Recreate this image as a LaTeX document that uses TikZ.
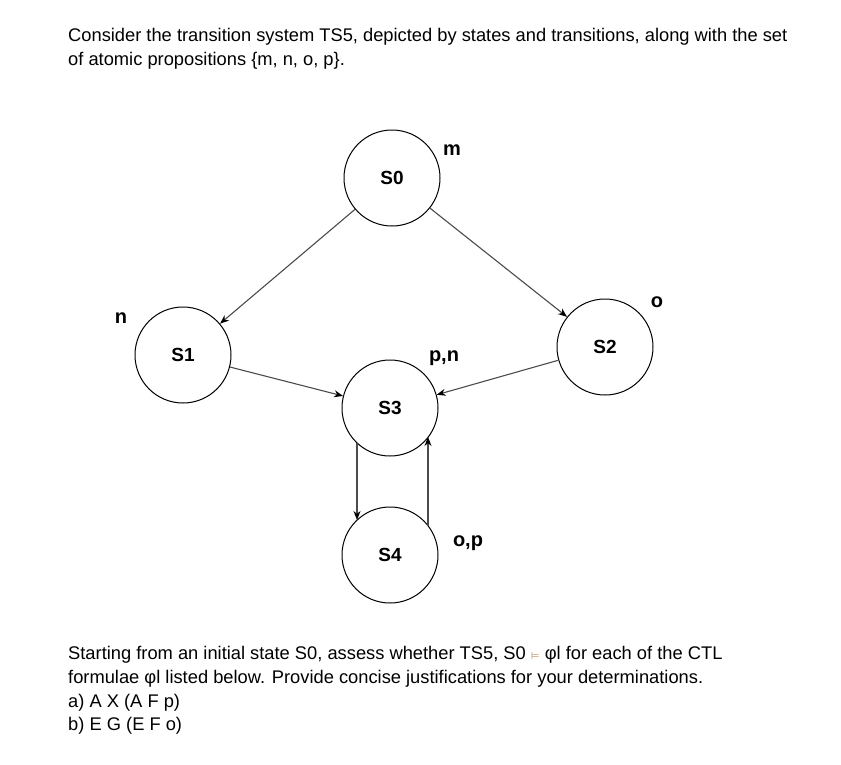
\documentclass[tikz,border=0pt]{standalone}
\usepackage{fontspec}
\setmainfont{Liberation Sans}
\newfontfamily\dejavu{DejaVu Sans}
\usetikzlibrary{arrows.meta}
\definecolor{modelsc}{RGB}{190,140,90}
\begin{document}
\begin{tikzpicture}[x=1pt,y=-1pt,
  st/.style={circle,draw=black,line width=1pt,minimum size=96pt,inner sep=0pt,font=\fontsize{19}{21}\selectfont\bfseries},
  lbl/.style={font=\fontsize{20}{22}\selectfont\bfseries,inner sep=0pt},
  tr/.style={draw=black!70,line width=1.1pt,-{Stealth[length=9pt,width=7pt,color=black]}},
  txt/.style={anchor=base west,inner sep=0pt,font=\fontsize{18.3}{21}\selectfont}]
\useasboundingbox[fill=white] (0,0) rectangle (841,764);
\node[txt] (t1) at (68,41) {Consider the transition system TS5, depicted by states and transitions, along with the set};
\node[txt] (t2) at (68,65) {of atomic propositions \{m, n, o, p\}.};
\node[st] (s0) at (392,178) {S0};
\node[st] (s1) at (183,355) {S1};
\node[st] (s2) at (605,347) {S2};
\node[st] (s3) at (390,408) {S3};
\node[st] (s4) at (390,555) {S4};
\node[lbl] (lm) at (452,150) {m};
\node[lbl] (ln) at (121,318) {n};
\node[lbl] (lo) at (657,302) {o};
\node[lbl] (lpn) at (444,358) {p,n};
\node[lbl] (lop) at (468,543) {o,p};
\draw[tr] (s0) -- (s1);
\draw[tr] (s0) -- (s2);
\draw[tr] (s1) -- (s3);
\draw[tr] (s2) -- (s3);
\coordinate (u1) at (357,443);
\coordinate (u2) at (357,520);
\coordinate (v1) at (428,526);
\coordinate (v2) at (428,437);
\draw[tr] (u1) -- (u2);
\draw[tr] (v1) -- (v2);
\node[txt] (b1) at (68,659) {Starting from an initial state S0, assess whether TS5, S0 {\dejavu\fontsize{10}{12}\selectfont\color{modelsc}⊨} φl for each of the CTL};
\node[txt] (b2) at (68,683) {formulae φl listed below. Provide concise justifications for your determinations.};
\node[txt] (b3) at (68,707) {a) A X (A F p)};
\node[txt] (b4) at (68,730) {b) E G (E F o)};
\end{tikzpicture}
\end{document}
